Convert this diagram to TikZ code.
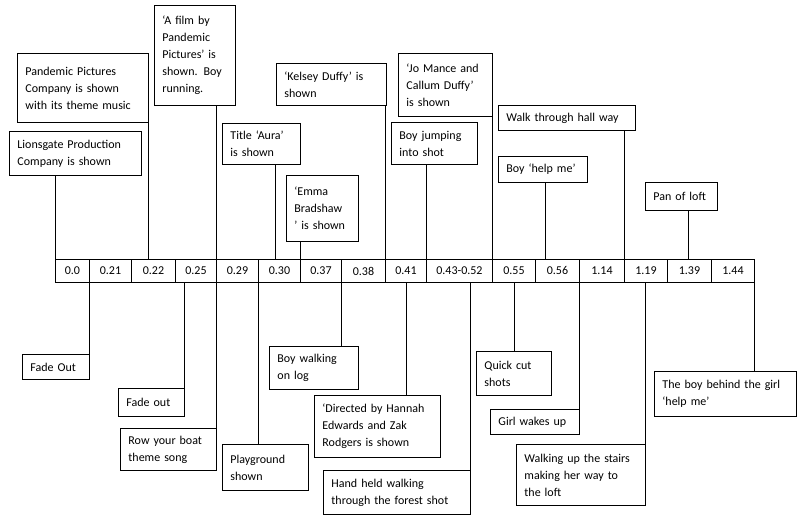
\documentclass[tikz,border=0pt]{standalone}
\usepackage{fontspec}
\setmainfont{Carlito}
\tikzset{
  bx/.style={draw, line width=0.9pt, anchor=north west, inner xsep=8pt, inner ysep=0pt, align=left,
    font=\fontsize{12}{17}\selectfont},
  cellbox/.style={draw, line width=0.9pt, anchor=north west, inner sep=0pt, minimum height=23pt,
    font=\fontsize{12}{14}\selectfont},
  con/.style={line width=0.9pt}
}
\newcommand{\bx}[6]{\node[bx, minimum width={(#4-#2)*1pt}, text width={(#4-#2-16)*1pt}, minimum height={(#5-#3)*1pt}] (#1) at (#2,#3) {#6};}
\newcommand{\cellx}[4]{\node[cellbox, minimum width={(#3-#2)*1pt}] (#1) at (#2,259) {#4};}
\newcommand{\up}[3]{\draw[con] (#2.north -| #3,0) -- (#1.south -| #3,0);}
\newcommand{\dn}[3]{\draw[con] (#2.south -| #3,0) -- (#1.north -| #3,0);}
\begin{document}
\begin{tikzpicture}[x=1pt,y=-1pt]
\useasboundingbox (0,0) rectangle (807,527);
\cellx{c00}{55}{89}{0.0}
\cellx{c021}{89}{131}{0.21}
\cellx{c022}{131}{175}{0.22}
\cellx{c025}{175}{216}{0.25}
\cellx{c029}{216}{258}{0.29}
\cellx{c030}{258}{300}{0.30}
\cellx{c037}{300}{341}{0.37}
\cellx{c038}{341}{385}{0.38}
\cellx{c041}{385}{426}{0.41}
\cellx{c043}{426}{492}{0.43-0.52}
\cellx{c055}{492}{535}{0.55}
\cellx{c056}{535}{579}{0.56}
\cellx{c114}{579}{624}{1.14}
\cellx{c119}{624}{667}{1.19}
\cellx{c139}{667}{711}{1.39}
\cellx{c144}{711}{754}{1.44}
% top boxes
\bx{pand}{17}{53}{148}{122}{Pandemic Pictures\\Company is shown\\with its theme music}
\bx{lions}{9}{131}{141}{175}{Lionsgate Production\\Company is shown}
\bx{afilm}{154}{5}{235}{105}{‘A film by\\Pandemic\\Pictures’ is\\shown. Boy\\running.}
\bx{kelsey}{276}{63}{386}{105}{‘Kelsey Duffy’ is\\shown}
\bx{title}{222}{123}{300}{164}{Title ‘Aura’\\is shown}
\bx{emma}{286}{175}{358}{241}{‘Emma\\Bradshaw\\’ is shown}
\bx{jo}{398}{53}{492}{116}{‘Jo Mance and\\Callum Duffy’\\is shown}
\bx{jump}{391}{122}{477}{164}{Boy jumping\\into shot}
\bx{walk}{498}{105}{635}{130}{Walk through hall way}
\bx{help}{498}{156}{587}{182}{Boy ‘help me’}
\bx{pan}{645}{182}{717}{210}{Pan of loft}
% bottom boxes
\bx{fadeO}{22}{354}{89}{379}{Fade Out}
\bx{fade}{118}{388}{184}{416}{Fade out}
\bx{row}{120}{428}{216}{470}{Row your boat\\theme song}
\bx{play}{222}{444}{308}{490}{Playground\\shown}
\bx{log}{269}{346}{358}{389}{Boy walking\\on log}
\bx{dir}{314}{395}{440}{457}{‘Directed by Hannah\\Edwards and Zak\\Rodgers is shown}
\bx{hand}{323}{470}{470}{514}{Hand held walking\\through the forest shot}
\bx{quick}{476}{351}{551}{395}{Quick cut\\shots}
\bx{girl}{490}{409}{579}{434}{Girl wakes up}
\bx{stairs}{516}{444}{645}{505}{Walking up the stairs\\making her way to\\the loft}
\bx{behind}{654}{371}{796}{416}{The boy behind the girl\\‘help me’}
% connectors up
\up{lions}{c00}{55}
\up{pand}{c022}{148}
\up{afilm}{c029}{216}
\up{title}{c030}{275}
\up{emma}{c037}{300}
\up{kelsey}{c041}{385}
\up{jump}{c043}{426}
\up{jo}{c055}{492}
\up{help}{c056}{545}
\up{walk}{c119}{624}
\up{pan}{c139}{688}
% connectors down
\dn{fadeO}{c021}{89}
\dn{fade}{c025}{184}
\dn{row}{c029}{216}
\dn{play}{c030}{258}
\dn{log}{c038}{341}
\dn{dir}{c041}{406}
\dn{hand}{c043}{470}
\dn{quick}{c055}{514}
\dn{girl}{c114}{579}
\dn{stairs}{c119}{645}
\dn{behind}{c144}{754}
\end{tikzpicture}
\end{document}
